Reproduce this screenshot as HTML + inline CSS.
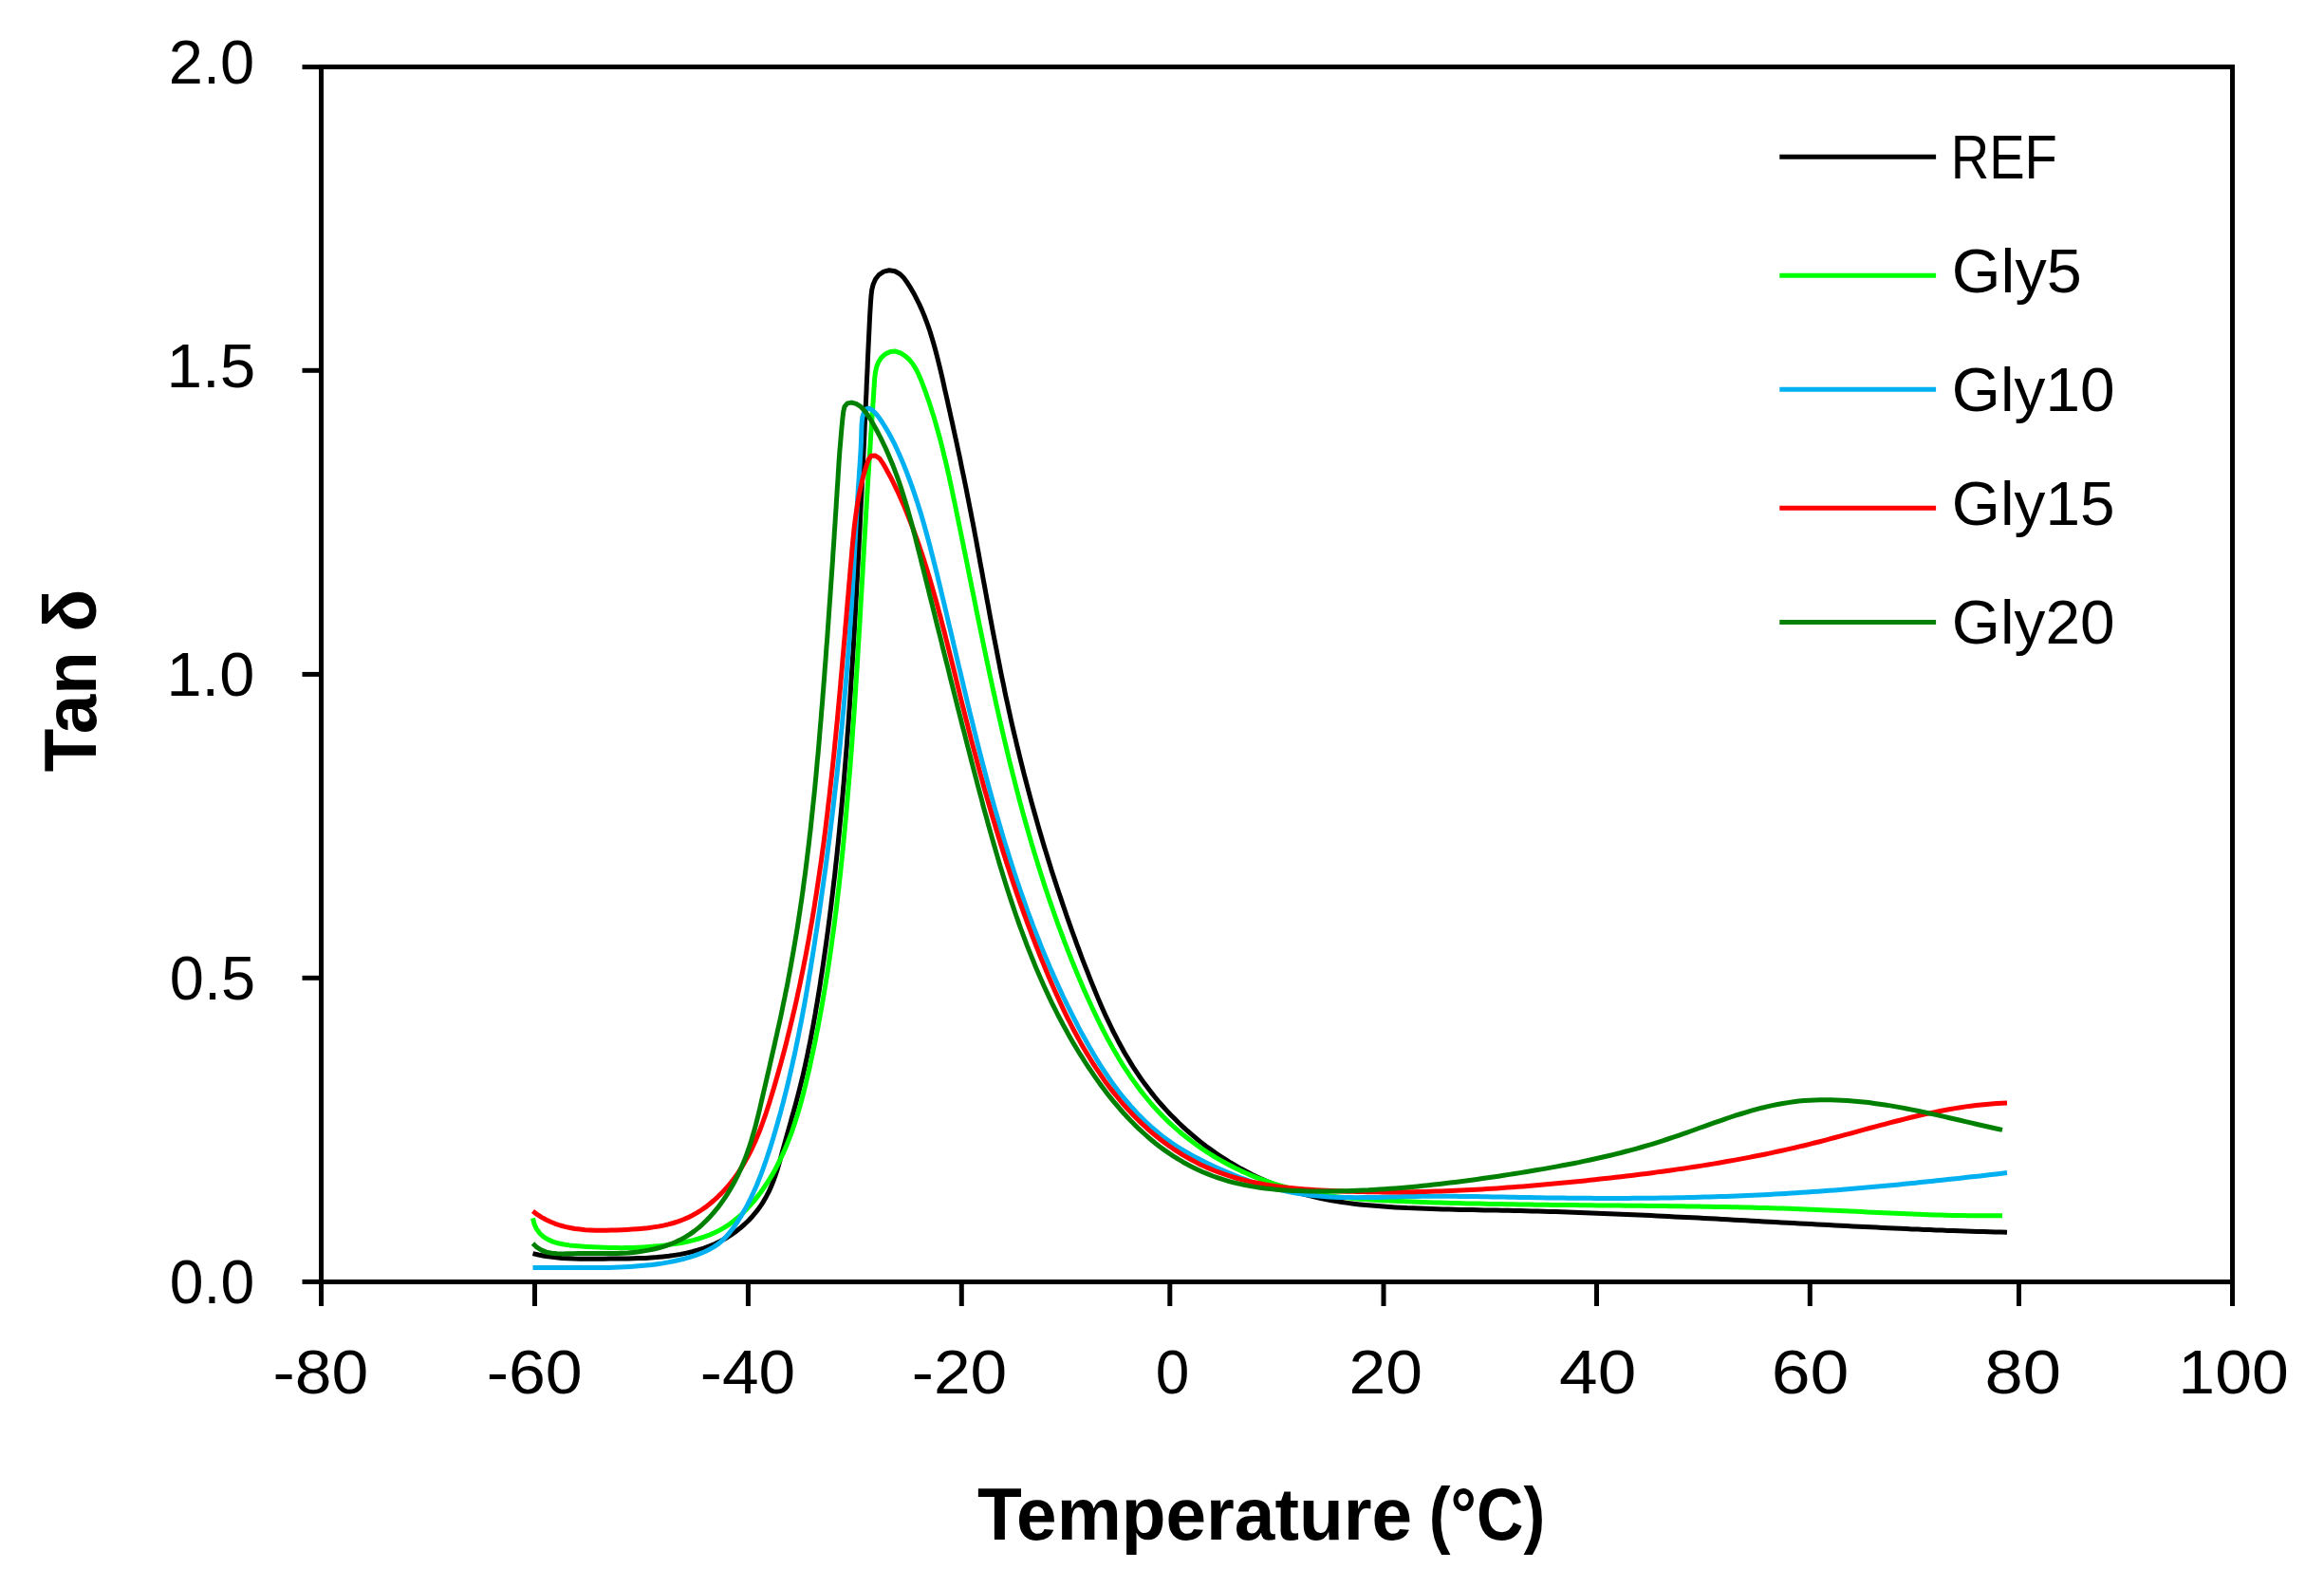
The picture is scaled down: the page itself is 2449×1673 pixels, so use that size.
<!DOCTYPE html>
<html><head><meta charset="utf-8"><title>Tan delta vs Temperature</title>
<style>html,body{margin:0;padding:0;background:#fff;overflow:hidden}svg{display:block}</style></head>
<body>
<svg width="2449" height="1673" viewBox="0 0 2449 1673">
<rect width="2449" height="1673" fill="#fff"/>
<g fill="none" stroke-width="5" stroke-linejoin="round" stroke-linecap="butt">
<path d="M561.5 1320.6 L567.5 1322.0 L573.6 1323.2 L579.8 1324.1 L586.0 1324.8 L592.2 1325.4 L598.5 1325.8 L604.8 1326.1 L611.1 1326.2 L617.4 1326.3 L623.7 1326.3 L630.0 1326.3 L636.3 1326.2 L642.6 1326.1 L648.9 1326.1 L655.1 1326.0 L661.4 1325.9 L667.6 1325.8 L673.8 1325.6 L680.0 1325.4 L686.2 1325.0 L692.4 1324.6 L698.6 1324.0 L704.8 1323.3 L711.0 1322.4 L717.2 1321.4 L723.4 1320.1 L729.5 1318.7 L735.6 1317.0 L741.6 1315.1 L747.5 1312.9 L753.3 1310.5 L758.9 1307.8 L764.4 1304.8 L769.7 1301.5 L774.8 1297.9 L779.7 1294.1 L784.4 1290.0 L788.9 1285.7 L793.1 1281.2 L797.1 1276.4 L800.8 1271.5 L804.2 1266.3 L807.3 1260.9 L810.2 1255.4 L812.7 1249.7 L815.1 1243.8 L817.2 1237.9 L819.2 1231.9 L821.0 1225.8 L822.8 1219.6 L824.4 1213.5 L826.1 1207.3 L827.8 1201.3 L829.5 1195.2 L831.2 1189.2 L832.9 1183.1 L834.5 1177.1 L836.2 1171.2 L837.9 1165.2 L839.5 1159.2 L841.1 1153.2 L842.6 1147.2 L844.1 1141.1 L845.6 1135.1 L847.0 1129.0 L848.4 1122.9 L849.7 1116.8 L851.0 1110.7 L852.2 1104.6 L853.5 1098.5 L854.7 1092.3 L855.8 1086.1 L857.0 1080.0 L858.1 1073.8 L859.2 1067.6 L860.2 1061.4 L861.3 1055.2 L862.3 1049.0 L863.3 1042.8 L864.3 1036.6 L865.2 1030.4 L866.2 1024.2 L867.1 1018.0 L868.0 1011.8 L868.9 1005.6 L869.8 999.4 L870.7 993.2 L871.5 987.0 L872.4 980.8 L873.2 974.6 L874.0 968.4 L874.8 962.1 L875.6 955.9 L876.3 949.7 L877.1 943.5 L877.8 937.3 L878.5 931.1 L879.3 924.8 L880.0 918.6 L880.6 912.4 L881.3 906.2 L882.0 900.0 L882.6 893.7 L883.3 887.5 L883.9 881.3 L884.5 875.1 L885.1 868.8 L885.7 862.6 L886.3 856.4 L886.9 850.1 L887.4 843.9 L888.0 837.7 L888.5 831.4 L889.1 825.2 L889.6 819.0 L890.1 812.7 L890.6 806.5 L891.1 800.3 L891.6 794.0 L892.1 787.8 L892.6 781.5 L893.0 775.3 L893.5 769.1 L894.0 762.8 L894.4 756.6 L894.8 750.3 L895.3 744.1 L895.7 737.8 L896.1 731.6 L896.5 725.3 L896.9 719.1 L897.3 712.8 L897.7 706.6 L898.1 700.3 L898.5 694.1 L898.9 687.8 L899.3 681.6 L899.6 675.3 L900.0 669.1 L900.4 662.8 L900.7 656.5 L901.1 650.3 L901.4 644.0 L901.8 637.7 L902.1 631.5 L902.5 625.2 L902.8 619.0 L903.1 612.7 L903.5 606.4 L903.8 600.2 L904.1 593.9 L904.5 587.6 L904.8 581.4 L905.1 575.1 L905.4 568.8 L905.8 562.5 L906.1 556.3 L906.4 550.0 L906.7 543.7 L907.0 537.5 L907.3 531.2 L907.7 524.9 L908.0 518.7 L908.3 512.4 L908.6 506.2 L908.9 499.9 L909.2 493.6 L909.5 487.4 L909.8 481.1 L910.1 474.9 L910.4 468.6 L910.7 462.4 L911.0 456.1 L911.2 449.9 L911.5 443.6 L911.8 437.4 L912.1 431.1 L912.4 424.9 L912.7 418.7 L913.0 412.4 L913.2 406.2 L913.5 400.0 L913.8 393.8 L914.1 387.6 L914.3 381.4 L914.6 375.1 L914.9 368.9 L915.2 362.7 L915.5 356.5 L915.8 350.2 L916.1 343.9 L916.4 337.6 L916.7 331.3 L917.1 324.8 L917.5 318.4 L918.0 311.8 L918.7 305.5 L920.2 299.4 L922.6 294.0 L926.4 289.3 L931.3 286.1 L937.0 284.8 L943.1 285.8 L948.4 288.8 L952.7 293.1 L956.4 298.3 L959.8 303.7 L963.0 309.2 L965.9 314.8 L968.7 320.4 L971.3 326.1 L973.7 331.9 L975.9 337.7 L978.1 343.6 L980.1 349.5 L981.9 355.5 L983.7 361.5 L985.4 367.5 L987.0 373.6 L988.5 379.6 L990.0 385.7 L991.5 391.8 L992.9 397.9 L994.3 404.1 L995.6 410.2 L997.0 416.3 L998.4 422.4 L999.7 428.5 L1001.1 434.7 L1002.4 440.8 L1003.8 446.9 L1005.1 453.0 L1006.4 459.1 L1007.8 465.2 L1009.1 471.4 L1010.4 477.5 L1011.7 483.6 L1012.9 489.7 L1014.2 495.9 L1015.5 502.0 L1016.7 508.1 L1018.0 514.2 L1019.2 520.4 L1020.4 526.5 L1021.6 532.7 L1022.8 538.8 L1024.0 545.0 L1025.2 551.1 L1026.4 557.3 L1027.5 563.4 L1028.7 569.6 L1029.8 575.7 L1031.0 581.9 L1032.1 588.1 L1033.2 594.2 L1034.4 600.4 L1035.5 606.6 L1036.6 612.7 L1037.8 618.9 L1038.9 625.1 L1040.0 631.2 L1041.2 637.4 L1042.3 643.6 L1043.4 649.8 L1044.6 655.9 L1045.7 662.1 L1046.9 668.2 L1048.1 674.4 L1049.3 680.6 L1050.5 686.7 L1051.7 692.9 L1052.9 699.0 L1054.1 705.2 L1055.3 711.3 L1056.6 717.4 L1057.9 723.6 L1059.1 729.7 L1060.4 735.8 L1061.8 741.9 L1063.1 748.0 L1064.5 754.2 L1065.8 760.3 L1067.2 766.4 L1068.6 772.4 L1070.1 778.5 L1071.5 784.6 L1073.0 790.7 L1074.5 796.8 L1076.0 802.8 L1077.5 808.9 L1079.0 815.0 L1080.6 821.0 L1082.2 827.1 L1083.8 833.1 L1085.4 839.1 L1087.0 845.2 L1088.7 851.2 L1090.4 857.2 L1092.1 863.2 L1093.8 869.3 L1095.5 875.3 L1097.3 881.3 L1099.0 887.3 L1100.8 893.3 L1102.7 899.2 L1104.5 905.2 L1106.4 911.2 L1108.2 917.2 L1110.1 923.1 L1112.1 929.1 L1114.0 935.1 L1116.0 941.0 L1118.0 946.9 L1120.0 952.9 L1122.0 958.8 L1124.0 964.7 L1126.1 970.7 L1128.2 976.6 L1130.3 982.5 L1132.5 988.4 L1134.6 994.3 L1136.8 1000.2 L1139.0 1006.1 L1141.2 1012.0 L1143.5 1017.8 L1145.8 1023.7 L1148.1 1029.6 L1150.4 1035.4 L1152.8 1041.3 L1155.2 1047.1 L1157.6 1052.9 L1160.1 1058.7 L1162.6 1064.4 L1165.2 1070.2 L1167.9 1075.9 L1170.6 1081.5 L1173.3 1087.1 L1176.2 1092.7 L1179.1 1098.3 L1182.1 1103.7 L1185.1 1109.2 L1188.3 1114.6 L1191.5 1119.9 L1194.8 1125.2 L1198.3 1130.4 L1201.8 1135.6 L1205.4 1140.6 L1209.1 1145.6 L1212.9 1150.6 L1216.8 1155.5 L1220.8 1160.3 L1224.9 1165.0 L1229.1 1169.6 L1233.4 1174.2 L1237.8 1178.6 L1242.2 1183.0 L1246.8 1187.3 L1251.4 1191.5 L1256.2 1195.6 L1261.0 1199.7 L1265.9 1203.6 L1270.8 1207.4 L1275.9 1211.1 L1281.1 1214.8 L1286.3 1218.3 L1291.6 1221.7 L1296.9 1225.0 L1302.4 1228.2 L1307.8 1231.3 L1313.4 1234.3 L1319.0 1237.2 L1324.7 1239.9 L1330.4 1242.5 L1336.2 1245.1 L1342.0 1247.4 L1347.8 1249.7 L1353.7 1251.9 L1359.6 1253.9 L1365.6 1255.8 L1371.6 1257.5 L1377.6 1259.1 L1383.7 1260.6 L1389.7 1262.0 L1395.8 1263.3 L1402.0 1264.5 L1408.1 1265.5 L1414.2 1266.5 L1420.4 1267.4 L1426.6 1268.2 L1432.8 1268.9 L1439.0 1269.5 L1445.3 1270.1 L1451.5 1270.6 L1457.7 1271.1 L1464.0 1271.5 L1470.2 1271.9 L1476.5 1272.2 L1482.8 1272.6 L1489.0 1272.8 L1495.3 1273.1 L1501.6 1273.3 L1507.8 1273.5 L1514.1 1273.7 L1520.4 1273.9 L1526.6 1274.1 L1532.9 1274.2 L1539.2 1274.4 L1545.4 1274.5 L1551.7 1274.6 L1558.0 1274.7 L1564.2 1274.9 L1570.5 1275.0 L1576.8 1275.1 L1583.0 1275.2 L1589.3 1275.3 L1595.6 1275.5 L1601.9 1275.6 L1608.1 1275.7 L1614.4 1275.9 L1620.6 1276.1 L1626.9 1276.2 L1633.2 1276.4 L1639.4 1276.6 L1645.7 1276.8 L1652.0 1277.0 L1658.2 1277.2 L1664.5 1277.5 L1670.8 1277.7 L1677.0 1277.9 L1683.3 1278.2 L1689.5 1278.4 L1695.8 1278.7 L1702.1 1278.9 L1708.3 1279.2 L1714.6 1279.5 L1720.8 1279.8 L1727.1 1280.0 L1733.3 1280.3 L1739.6 1280.6 L1745.9 1280.9 L1752.1 1281.2 L1758.4 1281.6 L1764.6 1281.9 L1770.9 1282.2 L1777.1 1282.5 L1783.4 1282.8 L1789.6 1283.1 L1795.9 1283.5 L1802.2 1283.8 L1808.4 1284.1 L1814.7 1284.5 L1820.9 1284.8 L1827.2 1285.2 L1833.4 1285.5 L1839.7 1285.8 L1845.9 1286.2 L1852.2 1286.5 L1858.4 1286.9 L1864.7 1287.2 L1870.9 1287.5 L1877.2 1287.9 L1883.5 1288.2 L1889.7 1288.6 L1896.0 1288.9 L1902.2 1289.3 L1908.5 1289.6 L1914.7 1289.9 L1921.0 1290.3 L1927.2 1290.6 L1933.5 1290.9 L1939.7 1291.2 L1946.0 1291.6 L1952.2 1291.9 L1958.5 1292.2 L1964.8 1292.5 L1971.0 1292.8 L1977.3 1293.1 L1983.5 1293.4 L1989.8 1293.7 L1996.0 1294.0 L2002.3 1294.3 L2008.6 1294.6 L2014.8 1294.9 L2021.1 1295.1 L2027.3 1295.4 L2033.6 1295.6 L2039.8 1295.9 L2046.1 1296.1 L2052.4 1296.4 L2058.6 1296.6 L2064.9 1296.8 L2071.2 1297.0 L2077.4 1297.2 L2083.7 1297.4 L2089.9 1297.6 L2096.2 1297.8 L2102.5 1298.0 L2108.7 1298.1 L2115.0 1298.3" stroke="#000000"/>
<path d="M561.5 1283.4 L563.1 1289.8 L565.6 1295.1 L568.9 1299.5 L572.9 1303.1 L577.5 1305.9 L582.6 1308.1 L588.1 1309.8 L594.0 1311.0 L600.0 1311.9 L606.2 1312.5 L612.4 1313.0 L618.6 1313.4 L624.7 1313.8 L630.7 1314.1 L636.7 1314.3 L642.7 1314.5 L648.6 1314.6 L654.5 1314.7 L660.3 1314.6 L666.2 1314.5 L672.0 1314.3 L677.8 1314.0 L683.7 1313.6 L689.5 1313.1 L695.3 1312.6 L701.2 1311.9 L707.0 1311.1 L712.9 1310.2 L718.8 1309.2 L724.6 1308.0 L730.4 1306.6 L736.2 1305.0 L741.8 1303.2 L747.4 1301.1 L752.8 1298.8 L758.1 1296.2 L763.2 1293.3 L768.2 1290.1 L773.0 1286.5 L777.6 1282.8 L782.0 1278.8 L786.2 1274.5 L790.3 1270.1 L794.3 1265.6 L798.0 1260.9 L801.6 1256.2 L805.0 1251.3 L808.3 1246.4 L811.5 1241.4 L814.5 1236.4 L817.3 1231.2 L820.0 1226.0 L822.6 1220.8 L825.1 1215.4 L827.5 1210.0 L829.7 1204.6 L831.9 1199.1 L834.0 1193.6 L835.9 1188.0 L837.8 1182.4 L839.6 1176.8 L841.3 1171.1 L843.0 1165.4 L844.6 1159.6 L846.1 1153.9 L847.6 1148.1 L849.0 1142.3 L850.4 1136.5 L851.7 1130.7 L853.1 1124.9 L854.3 1119.0 L855.6 1113.2 L856.8 1107.4 L858.1 1101.6 L859.3 1095.7 L860.4 1089.9 L861.6 1084.1 L862.7 1078.2 L863.8 1072.4 L864.8 1066.6 L865.9 1060.7 L866.9 1054.9 L867.9 1049.0 L868.9 1043.2 L869.9 1037.3 L870.8 1031.5 L871.8 1025.6 L872.7 1019.8 L873.6 1013.9 L874.4 1008.1 L875.3 1002.2 L876.1 996.4 L876.9 990.5 L877.7 984.6 L878.5 978.8 L879.3 972.9 L880.0 967.0 L880.8 961.1 L881.5 955.3 L882.2 949.4 L882.9 943.5 L883.6 937.6 L884.3 931.7 L884.9 925.9 L885.6 920.0 L886.2 914.1 L886.8 908.2 L887.4 902.3 L888.0 896.4 L888.6 890.5 L889.2 884.6 L889.7 878.7 L890.3 872.8 L890.8 866.9 L891.4 861.0 L891.9 855.1 L892.4 849.2 L892.9 843.3 L893.4 837.4 L893.9 831.4 L894.4 825.5 L894.9 819.6 L895.4 813.7 L895.9 807.8 L896.3 801.9 L896.8 795.9 L897.2 790.0 L897.7 784.1 L898.1 778.2 L898.5 772.2 L898.9 766.3 L899.4 760.4 L899.8 754.4 L900.2 748.5 L900.6 742.6 L901.0 736.7 L901.4 730.7 L901.7 724.8 L902.1 718.9 L902.5 712.9 L902.9 707.0 L903.3 701.1 L903.6 695.1 L904.0 689.2 L904.3 683.3 L904.7 677.4 L905.1 671.4 L905.4 665.5 L905.8 659.6 L906.1 653.6 L906.5 647.7 L906.8 641.8 L907.1 635.9 L907.5 629.9 L907.8 624.0 L908.2 618.1 L908.5 612.2 L908.9 606.2 L909.2 600.3 L909.5 594.4 L909.9 588.5 L910.2 582.6 L910.5 576.7 L910.9 570.7 L911.2 564.8 L911.6 558.9 L911.9 553.0 L912.3 547.1 L912.6 541.2 L913.0 535.3 L913.3 529.4 L913.7 523.5 L914.0 517.6 L914.4 511.7 L914.7 505.8 L915.1 499.9 L915.5 494.0 L915.8 488.2 L916.2 482.3 L916.6 476.4 L917.0 470.5 L917.3 464.6 L917.7 458.7 L918.1 452.8 L918.5 446.9 L918.9 441.0 L919.3 435.0 L919.7 429.0 L920.1 423.0 L920.5 417.0 L920.9 410.9 L921.3 404.8 L921.7 398.7 L922.4 392.7 L923.6 386.9 L925.6 381.6 L928.7 376.8 L933.0 372.9 L938.2 370.4 L943.8 370.1 L949.4 372.1 L954.3 375.3 L958.5 379.2 L962.1 383.7 L965.1 388.6 L967.8 393.9 L970.2 399.4 L972.4 405.1 L974.5 410.7 L976.5 416.4 L978.5 422.0 L980.4 427.7 L982.2 433.4 L984.0 439.1 L985.7 444.8 L987.3 450.6 L988.9 456.3 L990.5 462.0 L992.0 467.8 L993.4 473.5 L994.8 479.3 L996.2 485.1 L997.6 490.8 L998.9 496.6 L1000.2 502.4 L1001.4 508.2 L1002.7 514.0 L1003.9 519.8 L1005.1 525.5 L1006.3 531.3 L1007.5 537.1 L1008.7 542.9 L1009.9 548.8 L1011.1 554.6 L1012.3 560.4 L1013.5 566.2 L1014.7 572.0 L1015.8 577.8 L1017.0 583.6 L1018.2 589.4 L1019.4 595.2 L1020.5 601.0 L1021.7 606.9 L1022.9 612.7 L1024.0 618.5 L1025.2 624.3 L1026.4 630.1 L1027.6 635.9 L1028.7 641.7 L1029.9 647.6 L1031.1 653.4 L1032.3 659.2 L1033.5 665.0 L1034.7 670.8 L1035.9 676.6 L1037.1 682.4 L1038.3 688.2 L1039.5 694.0 L1040.8 699.9 L1042.0 705.7 L1043.2 711.5 L1044.5 717.3 L1045.7 723.1 L1047.0 728.9 L1048.3 734.6 L1049.5 740.4 L1050.8 746.2 L1052.1 752.0 L1053.4 757.8 L1054.8 763.6 L1056.1 769.4 L1057.4 775.1 L1058.8 780.9 L1060.2 786.7 L1061.5 792.4 L1062.9 798.2 L1064.3 804.0 L1065.8 809.7 L1067.2 815.5 L1068.7 821.2 L1070.1 826.9 L1071.6 832.7 L1073.1 838.4 L1074.6 844.1 L1076.2 849.9 L1077.7 855.6 L1079.3 861.3 L1080.9 867.0 L1082.5 872.7 L1084.1 878.4 L1085.8 884.1 L1087.4 889.8 L1089.1 895.5 L1090.8 901.1 L1092.6 906.8 L1094.3 912.5 L1096.1 918.1 L1097.9 923.8 L1099.7 929.4 L1101.5 935.0 L1103.4 940.7 L1105.3 946.3 L1107.2 951.9 L1109.2 957.5 L1111.1 963.1 L1113.1 968.7 L1115.1 974.3 L1117.2 979.9 L1119.3 985.5 L1121.3 991.0 L1123.5 996.6 L1125.6 1002.1 L1127.8 1007.7 L1130.0 1013.2 L1132.3 1018.7 L1134.5 1024.2 L1136.8 1029.7 L1139.2 1035.2 L1141.5 1040.7 L1143.9 1046.2 L1146.4 1051.7 L1148.8 1057.1 L1151.3 1062.5 L1153.9 1067.9 L1156.5 1073.3 L1159.1 1078.7 L1161.8 1084.0 L1164.6 1089.3 L1167.3 1094.6 L1170.2 1099.8 L1173.1 1105.0 L1176.1 1110.1 L1179.1 1115.2 L1182.2 1120.3 L1185.4 1125.3 L1188.6 1130.2 L1191.9 1135.1 L1195.3 1139.9 L1198.8 1144.7 L1202.3 1149.4 L1205.9 1154.0 L1209.6 1158.5 L1213.4 1163.0 L1217.3 1167.4 L1221.3 1171.7 L1225.4 1176.0 L1229.5 1180.1 L1233.8 1184.2 L1238.2 1188.1 L1242.6 1192.0 L1247.2 1195.8 L1251.9 1199.5 L1256.6 1203.1 L1261.4 1206.6 L1266.3 1210.0 L1271.3 1213.3 L1276.3 1216.5 L1281.4 1219.6 L1286.6 1222.6 L1291.8 1225.5 L1297.1 1228.3 L1302.4 1231.0 L1307.8 1233.6 L1313.2 1236.0 L1318.7 1238.4 L1324.2 1240.6 L1329.7 1242.7 L1335.3 1244.7 L1340.9 1246.6 L1346.5 1248.3 L1352.2 1250.0 L1357.9 1251.5 L1363.6 1252.9 L1369.4 1254.2 L1375.1 1255.4 L1380.9 1256.5 L1386.7 1257.6 L1392.5 1258.5 L1398.4 1259.4 L1404.2 1260.2 L1410.1 1260.9 L1416.0 1261.5 L1421.9 1262.1 L1427.8 1262.7 L1433.7 1263.2 L1439.7 1263.6 L1445.6 1264.0 L1451.5 1264.4 L1457.5 1264.7 L1463.4 1265.0 L1469.4 1265.3 L1475.3 1265.5 L1481.3 1265.8 L1487.3 1266.0 L1493.2 1266.2 L1499.2 1266.4 L1505.1 1266.7 L1511.0 1266.9 L1517.0 1267.0 L1522.9 1267.2 L1528.9 1267.4 L1534.8 1267.6 L1540.8 1267.7 L1546.7 1267.9 L1552.6 1268.0 L1558.6 1268.1 L1564.5 1268.3 L1570.5 1268.4 L1576.4 1268.5 L1582.3 1268.6 L1588.3 1268.7 L1594.2 1268.8 L1600.1 1268.9 L1606.1 1269.0 L1612.0 1269.1 L1617.9 1269.2 L1623.8 1269.2 L1629.8 1269.3 L1635.7 1269.4 L1641.6 1269.5 L1647.6 1269.5 L1653.5 1269.6 L1659.4 1269.6 L1665.3 1269.7 L1671.3 1269.8 L1677.2 1269.8 L1683.1 1269.9 L1689.0 1269.9 L1695.0 1270.0 L1700.9 1270.0 L1706.8 1270.1 L1712.7 1270.2 L1718.7 1270.2 L1724.6 1270.3 L1730.5 1270.3 L1736.4 1270.4 L1742.3 1270.5 L1748.3 1270.5 L1754.2 1270.6 L1760.1 1270.7 L1766.0 1270.7 L1772.0 1270.8 L1777.9 1270.9 L1783.8 1271.0 L1789.7 1271.1 L1795.6 1271.2 L1801.6 1271.3 L1807.5 1271.4 L1813.4 1271.5 L1819.3 1271.6 L1825.3 1271.7 L1831.2 1271.8 L1837.1 1272.0 L1843.0 1272.1 L1849.0 1272.3 L1854.9 1272.4 L1860.8 1272.6 L1866.8 1272.7 L1872.7 1272.9 L1878.6 1273.1 L1884.5 1273.3 L1890.5 1273.5 L1896.4 1273.7 L1902.3 1274.0 L1908.3 1274.2 L1914.2 1274.4 L1920.1 1274.7 L1926.1 1274.9 L1932.0 1275.2 L1938.0 1275.5 L1943.9 1275.8 L1949.8 1276.1 L1955.8 1276.3 L1961.7 1276.6 L1967.6 1276.9 L1973.6 1277.2 L1979.5 1277.5 L1985.5 1277.8 L1991.4 1278.0 L1997.3 1278.3 L2003.3 1278.6 L2009.2 1278.8 L2015.2 1279.1 L2021.1 1279.3 L2027.0 1279.5 L2033.0 1279.7 L2038.9 1279.9 L2044.8 1280.1 L2050.8 1280.3 L2056.7 1280.4 L2062.6 1280.5 L2068.5 1280.6 L2074.5 1280.7 L2080.4 1280.8 L2086.3 1280.8 L2092.2 1280.8 L2098.2 1280.8 L2104.1 1280.8 L2110.0 1280.7" stroke="#00ff00"/>
<path d="M561.5 1335.5 L567.2 1335.4 L572.9 1335.4 L578.6 1335.4 L584.3 1335.4 L590.0 1335.5 L595.8 1335.5 L601.5 1335.5 L607.2 1335.6 L613.0 1335.6 L618.7 1335.6 L624.4 1335.6 L630.2 1335.6 L635.9 1335.5 L641.6 1335.4 L647.3 1335.3 L653.1 1335.1 L658.8 1334.8 L664.5 1334.5 L670.1 1334.1 L675.8 1333.6 L681.5 1333.1 L687.2 1332.5 L692.8 1331.7 L698.4 1330.9 L704.0 1329.9 L709.6 1328.8 L715.2 1327.5 L720.8 1326.2 L726.4 1324.6 L731.9 1322.9 L737.3 1320.9 L742.6 1318.7 L747.8 1316.2 L752.7 1313.4 L757.3 1310.1 L761.6 1306.5 L765.6 1302.4 L769.3 1298.1 L772.8 1293.5 L776.1 1288.8 L779.2 1284.0 L782.2 1279.1 L785.1 1274.1 L787.8 1269.1 L790.4 1264.0 L792.8 1258.9 L795.2 1253.7 L797.5 1248.5 L799.6 1243.2 L801.7 1237.9 L803.7 1232.5 L805.6 1227.2 L807.5 1221.7 L809.3 1216.3 L811.1 1210.9 L812.8 1205.4 L814.5 1200.0 L816.1 1194.5 L817.7 1189.0 L819.3 1183.5 L820.8 1178.0 L822.4 1172.5 L823.8 1167.0 L825.3 1161.5 L826.7 1155.9 L828.1 1150.4 L829.5 1144.8 L830.8 1139.3 L832.1 1133.7 L833.4 1128.1 L834.7 1122.5 L835.9 1117.0 L837.2 1111.4 L838.4 1105.8 L839.5 1100.2 L840.7 1094.6 L841.8 1088.9 L842.9 1083.3 L844.0 1077.7 L845.1 1072.1 L846.1 1066.5 L847.2 1060.8 L848.2 1055.2 L849.2 1049.6 L850.2 1043.9 L851.1 1038.3 L852.1 1032.6 L853.0 1027.0 L854.0 1021.3 L854.9 1015.7 L855.8 1010.0 L856.7 1004.4 L857.6 998.7 L858.5 993.1 L859.3 987.4 L860.2 981.8 L861.1 976.1 L861.9 970.5 L862.8 964.8 L863.6 959.2 L864.4 953.5 L865.2 947.9 L866.0 942.2 L866.8 936.5 L867.6 930.9 L868.4 925.2 L869.2 919.6 L870.0 913.9 L870.7 908.3 L871.5 902.6 L872.2 897.0 L872.9 891.3 L873.7 885.6 L874.4 880.0 L875.1 874.3 L875.8 868.7 L876.5 863.0 L877.2 857.3 L877.9 851.7 L878.5 846.0 L879.2 840.4 L879.8 834.7 L880.5 829.0 L881.1 823.3 L881.8 817.7 L882.4 812.0 L883.0 806.3 L883.6 800.7 L884.2 795.0 L884.8 789.3 L885.4 783.6 L885.9 777.9 L886.5 772.3 L887.1 766.6 L887.6 760.9 L888.1 755.2 L888.7 749.5 L889.2 743.8 L889.7 738.1 L890.2 732.4 L890.7 726.7 L891.2 721.0 L891.7 715.3 L892.2 709.6 L892.6 703.9 L893.1 698.2 L893.5 692.5 L894.0 686.8 L894.4 681.1 L894.8 675.3 L895.2 669.6 L895.6 663.9 L896.0 658.2 L896.4 652.4 L896.8 646.7 L897.2 641.0 L897.6 635.2 L897.9 629.5 L898.3 623.7 L898.6 618.0 L898.9 612.2 L899.3 606.5 L899.6 600.7 L899.9 595.0 L900.2 589.2 L900.5 583.5 L900.8 577.8 L901.1 572.0 L901.4 566.3 L901.7 560.6 L902.0 555.0 L902.3 549.3 L902.7 543.6 L903.0 538.0 L903.3 532.4 L903.6 526.8 L904.0 521.3 L904.3 515.7 L904.7 510.2 L905.1 504.8 L905.4 499.3 L905.8 493.8 L906.2 488.3 L906.5 482.6 L906.9 476.8 L907.2 470.9 L907.5 464.7 L907.7 458.4 L907.9 451.8 L908.2 445.2 L908.9 439.2 L910.4 434.3 L912.7 431.0 L915.8 430.3 L919.6 432.3 L923.4 436.2 L927.1 441.1 L930.5 446.2 L933.7 451.4 L936.7 456.5 L939.5 461.7 L942.2 466.9 L944.6 472.0 L947.0 477.2 L949.3 482.4 L951.5 487.6 L953.6 492.9 L955.7 498.2 L957.7 503.5 L959.7 508.8 L961.6 514.1 L963.4 519.5 L965.2 524.9 L967.0 530.3 L968.7 535.7 L970.4 541.1 L972.0 546.6 L973.6 552.0 L975.1 557.5 L976.6 563.0 L978.1 568.5 L979.6 574.0 L981.0 579.6 L982.4 585.1 L983.8 590.6 L985.2 596.2 L986.6 601.7 L988.0 607.3 L989.3 612.9 L990.7 618.4 L992.0 624.0 L993.3 629.5 L994.7 635.1 L996.0 640.7 L997.3 646.3 L998.6 651.8 L999.9 657.4 L1001.3 663.0 L1002.6 668.5 L1003.9 674.1 L1005.2 679.7 L1006.5 685.3 L1007.8 690.9 L1009.1 696.4 L1010.4 702.0 L1011.8 707.6 L1013.1 713.2 L1014.4 718.7 L1015.7 724.3 L1017.1 729.9 L1018.4 735.5 L1019.7 741.0 L1021.1 746.6 L1022.4 752.2 L1023.8 757.7 L1025.2 763.3 L1026.5 768.8 L1027.9 774.4 L1029.3 780.0 L1030.7 785.5 L1032.1 791.1 L1033.5 796.6 L1034.9 802.1 L1036.4 807.7 L1037.8 813.2 L1039.3 818.7 L1040.8 824.3 L1042.3 829.8 L1043.8 835.3 L1045.3 840.8 L1046.8 846.3 L1048.3 851.8 L1049.9 857.3 L1051.5 862.8 L1053.1 868.3 L1054.7 873.8 L1056.3 879.3 L1057.9 884.7 L1059.6 890.2 L1061.3 895.6 L1063.0 901.1 L1064.7 906.5 L1066.5 912.0 L1068.2 917.4 L1070.0 922.8 L1071.8 928.2 L1073.6 933.6 L1075.5 939.0 L1077.4 944.4 L1079.3 949.8 L1081.2 955.2 L1083.1 960.5 L1085.1 965.9 L1087.1 971.2 L1089.1 976.6 L1091.2 981.9 L1093.3 987.2 L1095.4 992.5 L1097.5 997.8 L1099.7 1003.1 L1101.9 1008.4 L1104.1 1013.6 L1106.3 1018.9 L1108.6 1024.1 L1110.9 1029.4 L1113.3 1034.6 L1115.7 1039.8 L1118.1 1045.0 L1120.5 1050.2 L1123.0 1055.4 L1125.5 1060.5 L1128.1 1065.7 L1130.7 1070.8 L1133.3 1075.9 L1135.9 1081.1 L1138.6 1086.2 L1141.4 1091.2 L1144.2 1096.3 L1147.0 1101.3 L1149.9 1106.3 L1152.8 1111.3 L1155.8 1116.2 L1158.8 1121.1 L1161.9 1125.9 L1165.1 1130.7 L1168.3 1135.4 L1171.6 1140.1 L1174.9 1144.7 L1178.3 1149.3 L1181.8 1153.8 L1185.4 1158.2 L1189.1 1162.5 L1192.8 1166.8 L1196.6 1171.0 L1200.5 1175.1 L1204.5 1179.1 L1208.6 1183.0 L1212.7 1186.8 L1217.0 1190.5 L1221.3 1194.2 L1225.8 1197.7 L1230.4 1201.1 L1235.0 1204.4 L1239.8 1207.5 L1244.7 1210.6 L1249.6 1213.5 L1254.7 1216.4 L1259.8 1219.1 L1265.0 1221.8 L1270.2 1224.4 L1275.4 1226.9 L1280.6 1229.4 L1285.8 1231.8 L1291.1 1234.1 L1296.4 1236.3 L1301.7 1238.5 L1307.0 1240.6 L1312.4 1242.6 L1317.7 1244.5 L1323.1 1246.3 L1328.5 1248.0 L1334.0 1249.6 L1339.4 1251.2 L1344.9 1252.6 L1350.4 1253.9 L1355.9 1255.1 L1361.5 1256.3 L1367.1 1257.2 L1372.7 1258.1 L1378.3 1258.9 L1383.9 1259.5 L1389.6 1260.1 L1395.2 1260.5 L1400.9 1260.9 L1406.7 1261.2 L1412.4 1261.4 L1418.1 1261.5 L1423.9 1261.6 L1429.6 1261.7 L1435.4 1261.6 L1441.1 1261.6 L1446.9 1261.5 L1452.7 1261.4 L1458.5 1261.2 L1464.3 1261.1 L1470.0 1260.9 L1475.8 1260.8 L1481.6 1260.6 L1487.3 1260.5 L1493.1 1260.4 L1498.8 1260.3 L1504.6 1260.3 L1510.3 1260.3 L1516.0 1260.2 L1521.7 1260.3 L1527.4 1260.3 L1533.1 1260.3 L1538.8 1260.4 L1544.5 1260.4 L1550.2 1260.5 L1555.9 1260.6 L1561.6 1260.7 L1567.3 1260.8 L1573.0 1260.9 L1578.7 1261.0 L1584.4 1261.1 L1590.1 1261.2 L1595.8 1261.3 L1601.4 1261.5 L1607.1 1261.6 L1612.8 1261.6 L1618.5 1261.7 L1624.2 1261.8 L1629.9 1261.9 L1635.6 1262.0 L1641.4 1262.1 L1647.1 1262.1 L1652.8 1262.2 L1658.5 1262.2 L1664.2 1262.3 L1669.9 1262.3 L1675.6 1262.3 L1681.4 1262.4 L1687.1 1262.4 L1692.8 1262.4 L1698.5 1262.4 L1704.2 1262.4 L1710.0 1262.4 L1715.7 1262.4 L1721.4 1262.3 L1727.1 1262.3 L1732.9 1262.3 L1738.6 1262.2 L1744.3 1262.2 L1750.1 1262.1 L1755.8 1262.0 L1761.5 1261.9 L1767.2 1261.8 L1773.0 1261.7 L1778.7 1261.6 L1784.4 1261.4 L1790.2 1261.3 L1795.9 1261.1 L1801.6 1261.0 L1807.3 1260.8 L1813.1 1260.6 L1818.8 1260.4 L1824.5 1260.2 L1830.2 1260.0 L1835.9 1259.8 L1841.7 1259.5 L1847.4 1259.3 L1853.1 1259.0 L1858.8 1258.7 L1864.5 1258.4 L1870.2 1258.1 L1875.9 1257.8 L1881.7 1257.4 L1887.4 1257.1 L1893.1 1256.7 L1898.8 1256.3 L1904.5 1256.0 L1910.2 1255.6 L1915.9 1255.2 L1921.6 1254.7 L1927.3 1254.3 L1933.0 1253.9 L1938.7 1253.4 L1944.4 1253.0 L1950.1 1252.5 L1955.8 1252.0 L1961.5 1251.5 L1967.1 1251.0 L1972.8 1250.5 L1978.5 1250.0 L1984.2 1249.5 L1989.9 1249.0 L1995.6 1248.4 L2001.3 1247.9 L2007.0 1247.3 L2012.7 1246.8 L2018.4 1246.2 L2024.0 1245.6 L2029.7 1245.0 L2035.4 1244.4 L2041.1 1243.8 L2046.8 1243.2 L2052.5 1242.6 L2058.2 1242.0 L2063.8 1241.4 L2069.5 1240.8 L2075.2 1240.1 L2080.9 1239.5 L2086.6 1238.9 L2092.3 1238.2 L2097.9 1237.6 L2103.6 1236.9 L2109.3 1236.3 L2115.0 1235.6" stroke="#00b0f0"/>
<path d="M561.5 1276.0 L566.0 1279.4 L570.6 1282.4 L575.4 1285.0 L580.3 1287.3 L585.2 1289.3 L590.3 1291.0 L595.4 1292.4 L600.6 1293.5 L605.9 1294.5 L611.2 1295.1 L616.6 1295.7 L622.1 1296.0 L627.6 1296.2 L633.1 1296.2 L638.6 1296.2 L644.2 1296.1 L649.7 1295.9 L655.3 1295.7 L660.9 1295.4 L666.4 1295.1 L671.9 1294.7 L677.4 1294.2 L682.9 1293.7 L688.3 1292.9 L693.7 1292.1 L699.0 1291.1 L704.3 1289.9 L709.5 1288.5 L714.6 1286.9 L719.6 1285.0 L724.6 1282.9 L729.4 1280.5 L734.2 1277.9 L738.8 1275.0 L743.3 1271.9 L747.7 1268.5 L751.9 1265.0 L756.0 1261.3 L760.0 1257.4 L763.8 1253.4 L767.4 1249.3 L770.9 1245.1 L774.2 1240.8 L777.3 1236.4 L780.3 1231.9 L783.1 1227.3 L785.8 1222.6 L788.4 1217.9 L790.9 1213.1 L793.2 1208.2 L795.5 1203.3 L797.6 1198.3 L799.7 1193.2 L801.7 1188.2 L803.6 1183.0 L805.4 1177.9 L807.2 1172.7 L808.9 1167.5 L810.6 1162.3 L812.2 1157.0 L813.8 1151.8 L815.4 1146.5 L816.9 1141.2 L818.4 1136.0 L819.9 1130.7 L821.4 1125.4 L822.9 1120.1 L824.3 1114.8 L825.7 1109.6 L827.1 1104.3 L828.5 1099.0 L829.8 1093.7 L831.1 1088.4 L832.4 1083.1 L833.7 1077.7 L835.0 1072.4 L836.2 1067.1 L837.5 1061.8 L838.7 1056.5 L839.9 1051.2 L841.0 1045.8 L842.2 1040.5 L843.3 1035.2 L844.4 1029.8 L845.5 1024.5 L846.6 1019.1 L847.6 1013.8 L848.7 1008.4 L849.7 1003.1 L850.7 997.7 L851.7 992.4 L852.7 987.0 L853.6 981.6 L854.5 976.3 L855.5 970.9 L856.4 965.5 L857.3 960.2 L858.2 954.8 L859.0 949.4 L859.9 944.0 L860.7 938.6 L861.5 933.3 L862.3 927.9 L863.1 922.5 L863.9 917.1 L864.7 911.7 L865.5 906.3 L866.2 900.9 L866.9 895.5 L867.7 890.1 L868.4 884.7 L869.1 879.3 L869.8 873.9 L870.4 868.5 L871.1 863.0 L871.8 857.6 L872.4 852.2 L873.0 846.8 L873.7 841.4 L874.3 836.0 L874.9 830.5 L875.5 825.1 L876.1 819.7 L876.7 814.3 L877.3 808.8 L877.8 803.4 L878.4 798.0 L879.0 792.6 L879.5 787.1 L880.0 781.7 L880.6 776.3 L881.1 770.8 L881.6 765.4 L882.2 759.9 L882.7 754.5 L883.2 749.1 L883.7 743.6 L884.2 738.2 L884.7 732.7 L885.2 727.3 L885.7 721.9 L886.1 716.4 L886.6 711.0 L887.1 705.5 L887.6 700.1 L888.0 694.6 L888.5 689.2 L889.0 683.8 L889.4 678.3 L889.9 672.9 L890.4 667.4 L890.8 662.0 L891.3 656.5 L891.8 651.1 L892.2 645.6 L892.7 640.2 L893.1 634.7 L893.6 629.3 L894.1 623.9 L894.5 618.4 L895.0 613.0 L895.5 607.5 L895.9 602.1 L896.4 596.6 L896.9 591.2 L897.4 585.7 L897.8 580.3 L898.3 574.9 L898.8 569.4 L899.4 564.0 L899.9 558.6 L900.5 553.1 L901.2 547.7 L901.9 542.3 L902.7 536.9 L903.5 531.5 L904.4 526.2 L905.4 520.8 L906.5 515.5 L907.7 510.2 L908.9 504.9 L910.3 499.6 L911.8 494.4 L913.5 489.1 L915.3 484.0 L918.0 480.3 L922.4 480.0 L927.0 483.1 L930.2 487.8 L933.1 492.8 L935.8 497.8 L938.5 502.7 L941.0 507.7 L943.4 512.6 L945.8 517.6 L948.0 522.5 L950.2 527.5 L952.4 532.4 L954.4 537.4 L956.5 542.5 L958.5 547.5 L960.4 552.5 L962.4 557.6 L964.2 562.7 L966.1 567.8 L967.9 572.9 L969.6 578.1 L971.4 583.2 L973.1 588.4 L974.7 593.6 L976.4 598.8 L978.0 604.0 L979.6 609.2 L981.1 614.4 L982.6 619.7 L984.1 624.9 L985.6 630.2 L987.1 635.4 L988.5 640.7 L989.9 646.0 L991.4 651.3 L992.7 656.6 L994.1 661.9 L995.5 667.2 L996.8 672.5 L998.2 677.8 L999.5 683.1 L1000.8 688.4 L1002.2 693.8 L1003.5 699.1 L1004.8 704.4 L1006.1 709.7 L1007.4 715.0 L1008.7 720.3 L1010.0 725.7 L1011.3 731.0 L1012.6 736.3 L1013.9 741.6 L1015.3 746.9 L1016.6 752.2 L1017.9 757.4 L1019.3 762.7 L1020.6 768.0 L1022.0 773.3 L1023.3 778.6 L1024.7 783.8 L1026.1 789.1 L1027.5 794.4 L1028.9 799.6 L1030.3 804.9 L1031.7 810.1 L1033.1 815.4 L1034.6 820.6 L1036.0 825.9 L1037.4 831.1 L1038.9 836.3 L1040.4 841.6 L1041.9 846.8 L1043.4 852.0 L1044.9 857.2 L1046.4 862.4 L1048.0 867.6 L1049.5 872.8 L1051.1 878.0 L1052.7 883.2 L1054.3 888.4 L1055.9 893.6 L1057.5 898.8 L1059.2 904.0 L1060.8 909.2 L1062.5 914.3 L1064.2 919.5 L1065.9 924.7 L1067.6 929.8 L1069.4 935.0 L1071.1 940.1 L1072.9 945.3 L1074.7 950.4 L1076.6 955.6 L1078.4 960.7 L1080.3 965.8 L1082.1 971.0 L1084.1 976.1 L1086.0 981.2 L1087.9 986.3 L1089.9 991.4 L1091.9 996.6 L1093.9 1001.7 L1095.9 1006.8 L1098.0 1011.9 L1100.1 1016.9 L1102.2 1022.0 L1104.3 1027.1 L1106.5 1032.2 L1108.7 1037.3 L1110.9 1042.3 L1113.2 1047.4 L1115.5 1052.4 L1117.8 1057.4 L1120.1 1062.4 L1122.5 1067.4 L1124.9 1072.3 L1127.4 1077.2 L1129.9 1082.1 L1132.5 1087.0 L1135.1 1091.8 L1137.7 1096.6 L1140.4 1101.4 L1143.2 1106.2 L1146.0 1110.9 L1148.8 1115.5 L1151.7 1120.1 L1154.6 1124.7 L1157.7 1129.2 L1160.7 1133.7 L1163.8 1138.2 L1167.0 1142.5 L1170.3 1146.9 L1173.6 1151.1 L1177.0 1155.3 L1180.4 1159.5 L1183.9 1163.6 L1187.5 1167.6 L1191.2 1171.6 L1194.9 1175.5 L1198.7 1179.3 L1202.6 1183.1 L1206.5 1186.7 L1210.5 1190.4 L1214.6 1193.9 L1218.8 1197.3 L1223.1 1200.7 L1227.5 1204.0 L1231.9 1207.2 L1236.4 1210.3 L1241.1 1213.3 L1245.7 1216.3 L1250.5 1219.1 L1255.3 1221.8 L1260.2 1224.4 L1265.1 1226.9 L1270.1 1229.2 L1275.1 1231.4 L1280.2 1233.5 L1285.3 1235.4 L1290.4 1237.2 L1295.6 1238.9 L1300.8 1240.5 L1306.0 1242.0 L1311.2 1243.3 L1316.5 1244.6 L1321.8 1245.7 L1327.1 1246.8 L1332.5 1247.8 L1337.8 1248.6 L1343.2 1249.5 L1348.6 1250.2 L1354.0 1250.9 L1359.5 1251.5 L1364.9 1252.0 L1370.4 1252.5 L1375.8 1252.9 L1381.3 1253.3 L1386.7 1253.7 L1392.2 1254.0 L1397.7 1254.3 L1403.2 1254.5 L1408.6 1254.8 L1414.1 1255.0 L1419.6 1255.2 L1425.0 1255.3 L1430.5 1255.5 L1436.0 1255.6 L1441.4 1255.7 L1446.9 1255.8 L1452.4 1255.8 L1457.8 1255.9 L1463.3 1255.9 L1468.8 1255.9 L1474.2 1255.9 L1479.7 1255.8 L1485.1 1255.7 L1490.6 1255.7 L1496.0 1255.6 L1501.5 1255.4 L1506.9 1255.3 L1512.4 1255.1 L1517.9 1254.9 L1523.3 1254.7 L1528.8 1254.5 L1534.2 1254.3 L1539.6 1254.1 L1545.1 1253.8 L1550.5 1253.5 L1556.0 1253.2 L1561.4 1252.9 L1566.9 1252.6 L1572.3 1252.2 L1577.8 1251.9 L1583.2 1251.5 L1588.6 1251.1 L1594.1 1250.7 L1599.5 1250.3 L1605.0 1249.9 L1610.4 1249.4 L1615.8 1249.0 L1621.3 1248.5 L1626.7 1248.1 L1632.1 1247.6 L1637.6 1247.1 L1643.0 1246.6 L1648.4 1246.0 L1653.9 1245.5 L1659.3 1245.0 L1664.7 1244.4 L1670.2 1243.9 L1675.6 1243.3 L1681.0 1242.7 L1686.5 1242.1 L1691.9 1241.5 L1697.3 1240.9 L1702.7 1240.3 L1708.2 1239.7 L1713.6 1239.0 L1719.0 1238.4 L1724.4 1237.7 L1729.8 1237.0 L1735.3 1236.4 L1740.7 1235.7 L1746.1 1234.9 L1751.5 1234.2 L1756.9 1233.5 L1762.3 1232.7 L1767.7 1231.9 L1773.1 1231.2 L1778.5 1230.4 L1783.9 1229.5 L1789.3 1228.7 L1794.7 1227.9 L1800.1 1227.0 L1805.5 1226.1 L1810.8 1225.2 L1816.2 1224.3 L1821.6 1223.3 L1827.0 1222.4 L1832.3 1221.4 L1837.7 1220.4 L1843.1 1219.4 L1848.4 1218.3 L1853.8 1217.3 L1859.1 1216.2 L1864.4 1215.1 L1869.8 1213.9 L1875.1 1212.8 L1880.4 1211.6 L1885.8 1210.4 L1891.1 1209.2 L1896.4 1207.9 L1901.7 1206.7 L1907.0 1205.4 L1912.3 1204.0 L1917.6 1202.7 L1922.9 1201.3 L1928.2 1199.9 L1933.4 1198.5 L1938.7 1197.1 L1944.0 1195.7 L1949.2 1194.3 L1954.5 1192.8 L1959.8 1191.4 L1965.1 1189.9 L1970.3 1188.5 L1975.6 1187.1 L1980.9 1185.7 L1986.1 1184.3 L1991.4 1182.9 L1996.7 1181.5 L2002.0 1180.2 L2007.3 1178.8 L2012.6 1177.5 L2017.9 1176.3 L2023.2 1175.1 L2028.5 1173.9 L2033.8 1172.7 L2039.2 1171.6 L2044.5 1170.5 L2049.9 1169.5 L2055.2 1168.5 L2060.6 1167.6 L2066.0 1166.7 L2071.4 1165.9 L2076.8 1165.2 L2082.2 1164.5 L2087.6 1163.9 L2093.1 1163.4 L2098.5 1162.9 L2104.0 1162.5 L2109.5 1162.2 L2115.0 1162.0" stroke="#ff0000"/>
<path d="M561.5 1310.0 L565.9 1314.2 L570.7 1317.1 L575.8 1319.1 L581.3 1320.3 L586.9 1320.8 L592.7 1321.0 L598.5 1320.8 L604.4 1320.7 L610.2 1320.6 L616.0 1320.5 L621.7 1320.5 L627.5 1320.6 L633.2 1320.6 L638.9 1320.6 L644.6 1320.5 L650.2 1320.4 L655.9 1320.2 L661.6 1319.9 L667.3 1319.4 L673.0 1318.8 L678.7 1317.9 L684.4 1316.9 L690.0 1315.7 L695.6 1314.3 L701.2 1312.6 L706.6 1310.7 L711.9 1308.5 L717.0 1306.1 L722.0 1303.4 L726.9 1300.4 L731.5 1297.1 L736.0 1293.6 L740.3 1289.8 L744.4 1285.8 L748.4 1281.7 L752.2 1277.3 L755.9 1272.9 L759.4 1268.3 L762.7 1263.6 L765.9 1258.8 L768.9 1254.0 L771.8 1249.0 L774.5 1244.0 L777.2 1238.9 L779.6 1233.8 L781.9 1228.5 L784.1 1223.3 L786.2 1218.0 L788.1 1212.6 L790.0 1207.2 L791.7 1201.7 L793.3 1196.3 L794.9 1190.8 L796.4 1185.3 L797.8 1179.7 L799.2 1174.1 L800.5 1168.6 L801.8 1163.0 L803.1 1157.4 L804.4 1151.8 L805.7 1146.2 L807.0 1140.6 L808.3 1135.0 L809.6 1129.4 L810.9 1123.8 L812.1 1118.2 L813.4 1112.6 L814.7 1107.0 L816.0 1101.4 L817.2 1095.8 L818.5 1090.2 L819.7 1084.6 L821.0 1079.0 L822.2 1073.4 L823.4 1067.7 L824.6 1062.1 L825.7 1056.5 L826.9 1050.9 L828.0 1045.3 L829.2 1039.7 L830.3 1034.0 L831.3 1028.4 L832.4 1022.8 L833.4 1017.2 L834.4 1011.5 L835.4 1005.9 L836.4 1000.2 L837.4 994.6 L838.3 989.0 L839.3 983.3 L840.2 977.7 L841.1 972.0 L841.9 966.4 L842.8 960.7 L843.6 955.0 L844.5 949.4 L845.3 943.7 L846.1 938.0 L846.8 932.4 L847.6 926.7 L848.4 921.0 L849.1 915.3 L849.8 909.7 L850.5 904.0 L851.2 898.3 L851.9 892.6 L852.6 886.9 L853.2 881.2 L853.9 875.6 L854.5 869.9 L855.1 864.2 L855.7 858.5 L856.3 852.8 L856.9 847.1 L857.5 841.4 L858.1 835.7 L858.7 830.0 L859.2 824.3 L859.8 818.5 L860.3 812.8 L860.8 807.1 L861.3 801.4 L861.9 795.7 L862.4 790.0 L862.9 784.3 L863.4 778.5 L863.8 772.8 L864.3 767.1 L864.8 761.4 L865.3 755.6 L865.7 749.9 L866.2 744.2 L866.7 738.5 L867.1 732.7 L867.6 727.0 L868.0 721.3 L868.5 715.5 L868.9 709.8 L869.3 704.1 L869.8 698.3 L870.2 692.6 L870.6 686.9 L871.0 681.1 L871.5 675.4 L871.9 669.7 L872.3 663.9 L872.7 658.2 L873.1 652.5 L873.5 646.7 L873.9 641.0 L874.3 635.3 L874.7 629.6 L875.1 623.8 L875.5 618.1 L875.9 612.4 L876.3 606.7 L876.7 601.0 L877.1 595.3 L877.5 589.6 L877.8 583.9 L878.2 578.2 L878.6 572.5 L879.0 566.8 L879.3 561.1 L879.7 555.5 L880.1 549.8 L880.4 544.1 L880.8 538.5 L881.2 532.8 L881.5 527.1 L881.9 521.5 L882.2 515.9 L882.6 510.2 L883.0 504.6 L883.3 499.0 L883.7 493.3 L884.0 487.7 L884.4 482.0 L884.8 476.2 L885.3 470.4 L885.8 464.6 L886.3 458.6 L886.8 452.6 L887.4 446.5 L888.0 440.3 L888.7 434.0 L890.0 428.3 L893.0 424.9 L897.4 424.1 L902.2 425.4 L906.6 428.1 L910.4 431.9 L913.9 436.5 L917.1 441.5 L920.1 446.6 L923.0 451.8 L925.8 457.0 L928.4 462.2 L931.0 467.5 L933.5 472.8 L935.8 478.1 L938.1 483.4 L940.3 488.7 L942.4 494.1 L944.4 499.5 L946.4 504.9 L948.3 510.3 L950.1 515.8 L951.8 521.2 L953.5 526.7 L955.2 532.2 L956.8 537.7 L958.3 543.2 L959.9 548.7 L961.4 554.2 L962.8 559.7 L964.3 565.2 L965.7 570.8 L967.1 576.3 L968.5 581.9 L969.9 587.4 L971.2 592.9 L972.6 598.5 L974.0 604.0 L975.4 609.5 L976.8 615.1 L978.2 620.6 L979.5 626.2 L980.9 631.7 L982.3 637.2 L983.7 642.8 L985.1 648.3 L986.4 653.9 L987.8 659.4 L989.2 664.9 L990.6 670.5 L992.0 676.0 L993.3 681.6 L994.7 687.1 L996.1 692.7 L997.5 698.2 L998.9 703.7 L1000.3 709.3 L1001.6 714.8 L1003.0 720.4 L1004.4 725.9 L1005.8 731.5 L1007.2 737.0 L1008.6 742.6 L1010.0 748.1 L1011.4 753.7 L1012.8 759.2 L1014.2 764.8 L1015.7 770.4 L1017.1 775.9 L1018.5 781.5 L1019.9 787.0 L1021.4 792.6 L1022.8 798.2 L1024.2 803.7 L1025.7 809.3 L1027.1 814.9 L1028.6 820.4 L1030.0 826.0 L1031.5 831.6 L1033.0 837.2 L1034.5 842.7 L1035.9 848.3 L1037.4 853.9 L1039.0 859.5 L1040.5 865.0 L1042.0 870.6 L1043.6 876.2 L1045.1 881.7 L1046.7 887.3 L1048.3 892.8 L1049.9 898.4 L1051.5 903.9 L1053.1 909.5 L1054.8 915.0 L1056.5 920.5 L1058.2 926.0 L1059.9 931.5 L1061.6 937.0 L1063.4 942.5 L1065.2 947.9 L1067.0 953.4 L1068.8 958.8 L1070.7 964.3 L1072.6 969.7 L1074.5 975.1 L1076.5 980.5 L1078.5 985.9 L1080.5 991.2 L1082.5 996.6 L1084.6 1001.9 L1086.7 1007.2 L1088.9 1012.5 L1091.0 1017.8 L1093.2 1023.1 L1095.5 1028.3 L1097.8 1033.5 L1100.1 1038.7 L1102.5 1043.9 L1104.9 1049.1 L1107.3 1054.2 L1109.8 1059.3 L1112.4 1064.4 L1114.9 1069.5 L1117.6 1074.5 L1120.2 1079.5 L1123.0 1084.5 L1125.7 1089.5 L1128.5 1094.4 L1131.4 1099.4 L1134.3 1104.2 L1137.2 1109.1 L1140.3 1113.9 L1143.3 1118.7 L1146.4 1123.5 L1149.6 1128.2 L1152.8 1132.9 L1156.1 1137.6 L1159.4 1142.2 L1162.8 1146.8 L1166.3 1151.4 L1169.8 1155.9 L1173.4 1160.3 L1177.1 1164.7 L1180.8 1169.0 L1184.6 1173.3 L1188.5 1177.5 L1192.4 1181.6 L1196.5 1185.7 L1200.6 1189.7 L1204.8 1193.5 L1209.1 1197.3 L1213.4 1201.0 L1217.9 1204.7 L1222.4 1208.2 L1227.1 1211.6 L1231.8 1214.9 L1236.6 1218.1 L1241.5 1221.2 L1246.6 1224.2 L1251.7 1227.0 L1256.9 1229.7 L1262.1 1232.3 L1267.4 1234.7 L1272.8 1236.9 L1278.1 1239.0 L1283.5 1240.9 L1289.0 1242.7 L1294.4 1244.3 L1299.9 1245.8 L1305.5 1247.1 L1311.0 1248.3 L1316.6 1249.4 L1322.2 1250.4 L1327.8 1251.2 L1333.4 1252.0 L1339.1 1252.6 L1344.7 1253.2 L1350.4 1253.7 L1356.1 1254.1 L1361.8 1254.4 L1367.5 1254.6 L1373.2 1254.8 L1379.0 1255.0 L1384.7 1255.0 L1390.4 1255.1 L1396.2 1255.1 L1401.9 1255.0 L1407.6 1255.0 L1413.4 1254.8 L1419.1 1254.7 L1424.9 1254.5 L1430.6 1254.3 L1436.3 1254.0 L1442.1 1253.8 L1447.8 1253.4 L1453.5 1253.1 L1459.3 1252.7 L1465.0 1252.3 L1470.7 1251.9 L1476.5 1251.4 L1482.2 1250.9 L1487.9 1250.4 L1493.6 1249.9 L1499.3 1249.3 L1505.1 1248.7 L1510.8 1248.1 L1516.5 1247.5 L1522.2 1246.8 L1527.9 1246.1 L1533.6 1245.4 L1539.3 1244.7 L1545.0 1244.0 L1550.7 1243.2 L1556.4 1242.4 L1562.1 1241.6 L1567.7 1240.8 L1573.4 1240.0 L1579.1 1239.2 L1584.7 1238.3 L1590.4 1237.4 L1596.1 1236.5 L1601.7 1235.6 L1607.3 1234.7 L1613.0 1233.8 L1618.6 1232.8 L1624.2 1231.9 L1629.9 1230.9 L1635.5 1229.9 L1641.1 1228.9 L1646.7 1227.8 L1652.3 1226.8 L1657.9 1225.7 L1663.5 1224.6 L1669.0 1223.4 L1674.6 1222.2 L1680.2 1221.0 L1685.8 1219.8 L1691.3 1218.5 L1696.9 1217.2 L1702.4 1215.8 L1708.0 1214.5 L1713.5 1213.0 L1719.0 1211.6 L1724.6 1210.1 L1730.1 1208.5 L1735.6 1206.9 L1741.1 1205.3 L1746.6 1203.6 L1752.1 1201.8 L1757.6 1200.0 L1763.1 1198.2 L1768.6 1196.3 L1774.1 1194.4 L1779.6 1192.5 L1785.1 1190.5 L1790.5 1188.5 L1796.0 1186.6 L1801.5 1184.6 L1807.0 1182.7 L1812.5 1180.8 L1818.0 1178.9 L1823.5 1177.0 L1829.0 1175.2 L1834.5 1173.5 L1840.0 1171.8 L1845.5 1170.2 L1851.0 1168.7 L1856.5 1167.2 L1862.1 1165.9 L1867.6 1164.6 L1873.2 1163.5 L1878.8 1162.5 L1884.4 1161.6 L1890.0 1160.8 L1895.6 1160.1 L1901.2 1159.6 L1906.8 1159.2 L1912.5 1159.0 L1918.1 1158.8 L1923.8 1158.7 L1929.4 1158.8 L1935.1 1158.9 L1940.8 1159.2 L1946.5 1159.5 L1952.2 1159.9 L1957.9 1160.4 L1963.6 1161.0 L1969.3 1161.6 L1975.0 1162.4 L1980.6 1163.2 L1986.3 1164.0 L1992.0 1164.9 L1997.7 1165.9 L2003.4 1166.9 L2009.1 1168.0 L2014.8 1169.1 L2020.5 1170.2 L2026.2 1171.4 L2031.8 1172.6 L2037.5 1173.9 L2043.1 1175.1 L2048.8 1176.4 L2054.4 1177.7 L2060.0 1179.0 L2065.6 1180.3 L2071.2 1181.6 L2076.8 1182.9 L2082.4 1184.2 L2087.9 1185.5 L2093.5 1186.7 L2099.0 1188.0 L2104.5 1189.2 L2110.0 1190.4" stroke="#008000"/>
</g>
<g stroke="#000" stroke-width="5" fill="none">
<rect x="338.5" y="70.5" width="2014.0" height="1280.0"/>
<line x1="338.5" y1="1350.5" x2="338.5" y2="1376"/>
<line x1="563.5" y1="1350.5" x2="563.5" y2="1376"/>
<line x1="788.4" y1="1350.5" x2="788.4" y2="1376"/>
<line x1="1013.3" y1="1350.5" x2="1013.3" y2="1376"/>
<line x1="1232.8" y1="1350.5" x2="1232.8" y2="1376"/>
<line x1="1458" y1="1350.5" x2="1458" y2="1376"/>
<line x1="1682.5" y1="1350.5" x2="1682.5" y2="1376"/>
<line x1="1907.3" y1="1350.5" x2="1907.3" y2="1376"/>
<line x1="2127.5" y1="1350.5" x2="2127.5" y2="1376"/>
<line x1="2352.5" y1="1350.5" x2="2352.5" y2="1376"/>
<line x1="318.5" y1="70.6" x2="338.5" y2="70.6"/>
<line x1="318.5" y1="390.3" x2="338.5" y2="390.3"/>
<line x1="318.5" y1="710.4" x2="338.5" y2="710.4"/>
<line x1="318.5" y1="1030.3" x2="338.5" y2="1030.3"/>
<line x1="318.5" y1="1350.4" x2="338.5" y2="1350.4"/>
</g>
<g font-family="'Liberation Sans', sans-serif" fill="#000">
<line x1="1875.3" y1="165.2" x2="2040.1" y2="165.2" stroke="#000000" stroke-width="5"/>
<line x1="1875.3" y1="290.2" x2="2040.1" y2="290.2" stroke="#00ff00" stroke-width="5"/>
<line x1="1875.3" y1="410.3" x2="2040.1" y2="410.3" stroke="#00b0f0" stroke-width="5"/>
<line x1="1875.3" y1="535.3" x2="2040.1" y2="535.3" stroke="#ff0000" stroke-width="5"/>
<line x1="1875.3" y1="655.4" x2="2040.1" y2="655.4" stroke="#008000" stroke-width="5"/>
<text x="287.62" y="1468" font-size="64" textLength="100.67" lengthAdjust="spacingAndGlyphs">-80</text>
<text x="512.69" y="1468" font-size="64" textLength="101.00" lengthAdjust="spacingAndGlyphs">-60</text>
<text x="737.83" y="1468" font-size="64" textLength="100.38" lengthAdjust="spacingAndGlyphs">-40</text>
<text x="960.80" y="1468" font-size="64" textLength="100.41" lengthAdjust="spacingAndGlyphs">-20</text>
<text x="1217.70" y="1468" font-size="64" textLength="35.59" lengthAdjust="spacingAndGlyphs">0</text>
<text x="1421.44" y="1468" font-size="64" textLength="77.47" lengthAdjust="spacingAndGlyphs">20</text>
<text x="1643.11" y="1468" font-size="64" textLength="81.19" lengthAdjust="spacingAndGlyphs">40</text>
<text x="1866.72" y="1468" font-size="64" textLength="81.75" lengthAdjust="spacingAndGlyphs">60</text>
<text x="2091.49" y="1468" font-size="64" textLength="80.47" lengthAdjust="spacingAndGlyphs">80</text>
<text x="2295.36" y="1468" font-size="64" textLength="116.50" lengthAdjust="spacingAndGlyphs">100</text>
<text x="177.81" y="88" font-size="64" textLength="90.31" lengthAdjust="spacingAndGlyphs">2.0</text>
<text x="175.48" y="408" font-size="64" textLength="93.83" lengthAdjust="spacingAndGlyphs">1.5</text>
<text x="175.55" y="733" font-size="64" textLength="92.65" lengthAdjust="spacingAndGlyphs">1.0</text>
<text x="178.88" y="1053" font-size="64" textLength="90.31" lengthAdjust="spacingAndGlyphs">0.5</text>
<text x="178.89" y="1372.5" font-size="64" textLength="89.21" lengthAdjust="spacingAndGlyphs">0.0</text>
<text x="2055.74" y="187.8" font-size="64" textLength="112.11" lengthAdjust="spacingAndGlyphs">REF</text>
<text x="2056.86" y="307.8" font-size="64" textLength="136.77" lengthAdjust="spacingAndGlyphs">Gly5</text>
<text x="2056.89" y="432.5" font-size="64" textLength="171.61" lengthAdjust="spacingAndGlyphs">Gly10</text>
<text x="2056.89" y="552.5" font-size="64" textLength="171.61" lengthAdjust="spacingAndGlyphs">Gly15</text>
<text x="2056.89" y="677.5" font-size="64" textLength="171.61" lengthAdjust="spacingAndGlyphs">Gly20</text>
<text y="1622.4" font-size="77.8" font-weight="bold"><tspan x="1029.99" textLength="458.04" lengthAdjust="spacingAndGlyphs">Temperature</tspan> <tspan x="1505.84" textLength="122.33" lengthAdjust="spacingAndGlyphs">(°C)</tspan></text>
<text transform="translate(100.9,813.22) rotate(-90)" x="0" y="0" font-size="77.8" font-weight="bold" textLength="192.69" lengthAdjust="spacingAndGlyphs">Tan δ</text>
</g>
</svg>
</body></html>
